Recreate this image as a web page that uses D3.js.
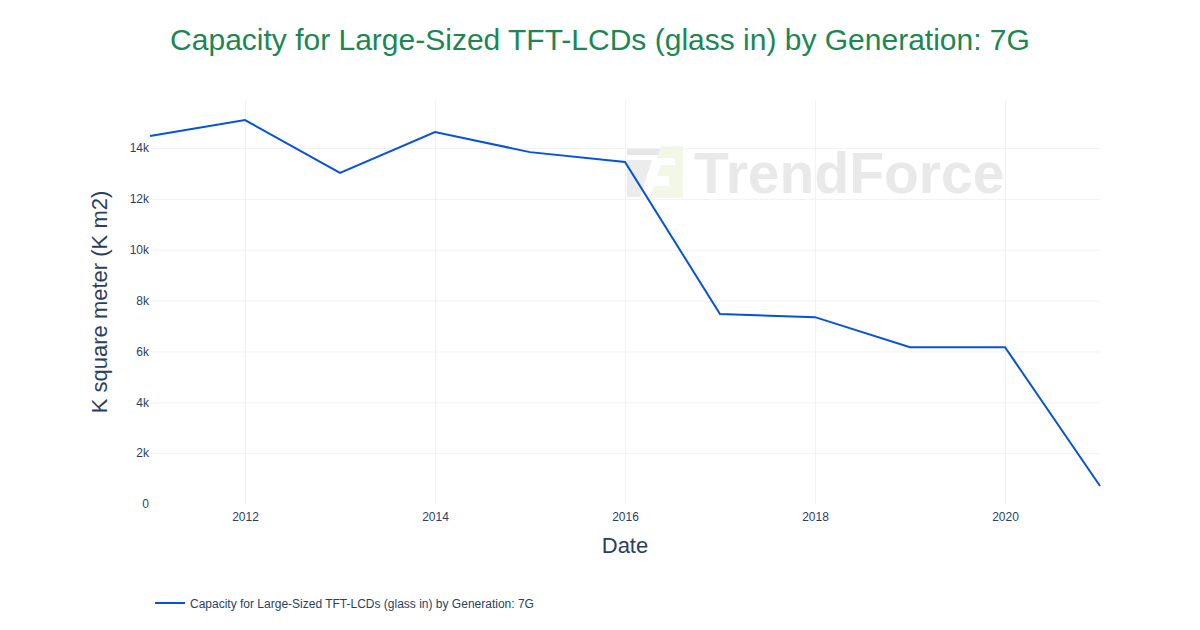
<!DOCTYPE html>
<html>
<head>
<meta charset="utf-8">
<script src="https://cdn.jsdelivr.net/npm/d3@7"></script>
<style>
body { margin: 0; background: #fff; }
text { font-family: "Liberation Sans", Arial, sans-serif; }
</style>
</head>
<body>
<div id="chart"></div>
<script>
var years = [2011, 2012, 2013, 2014, 2015, 2016, 2017, 2018, 2019, 2020, 2021];
var capacity = [14470, 15100, 13020, 14630, 13840, 13450, 7470, 7350, 6170, 6170, 710];
var yTicks = [0, 2000, 4000, 6000, 8000, 10000, 12000, 14000];
var xTicks = [2012, 2014, 2016, 2018, 2020];
var seriesName = "Capacity for Large-Sized TFT-LCDs (glass in) by Generation: 7G";

var w = 1200;
var h = 630;
var plotLeft = 150, plotRight = 1100, plotTop = 100, plotBottom = 504;
var textColor = "#2a3f5f";
var gridColor = "#f0f2f5";

var svg = d3.select("#chart")
            .append("svg")
            .attr("width", w)
            .attr("height", h);

var x = d3.scaleLinear().domain([2011, 2021]).range([plotLeft, plotRight]);
var y = d3.scaleLinear().domain([0, 15890]).range([plotBottom, plotTop]);

// watermark
var wm = svg.append("g");
wm.append("path").attr("d", "M627,148 L661,148 L659,155 L627,155 Z").attr("fill", "#e6e6e6");
wm.append("path").attr("d", "M627,160 L652,160 L640,197 L627,197 Z").attr("fill", "#ececec");
wm.append("path").attr("d", "M661,146 L683,146 L683,198 L650,198 L654,186 L669,186 L669,176 L657,176 L661,165 L675,165 L675,158 L657,158 Z").attr("fill", "#f2f7e6");
wm.append("text")
  .attr("x", 694).attr("y", 193)
  .attr("font-size", 57)
  .attr("font-weight", "bold")
  .attr("fill", "#e9e9e9")
  .text("TrendForce");

// grid
svg.append("g")
  .attr("transform", "translate(0," + plotBottom + ")")
  .call(d3.axisBottom(x).tickValues(xTicks).tickSize(-(plotBottom - plotTop)).tickFormat(""))
  .call(function(g) { g.select(".domain").remove(); })
  .selectAll("line").attr("stroke", gridColor);

svg.append("g")
  .attr("transform", "translate(" + plotLeft + ",0)")
  .call(d3.axisLeft(y).tickValues(yTicks.slice(1)).tickSize(-(plotRight - plotLeft)).tickFormat(""))
  .call(function(g) { g.select(".domain").remove(); })
  .selectAll("line").attr("stroke", gridColor);

// axis labels
var xAxis = svg.append("g")
  .attr("transform", "translate(0," + plotBottom + ")")
  .call(d3.axisBottom(x).tickValues(xTicks).tickSize(0).tickPadding(8).tickFormat(d3.format("d")));
xAxis.select(".domain").remove();
xAxis.selectAll("text").attr("font-size", 12).attr("fill", textColor)
  .style("font-family", "'Liberation Sans', Arial, sans-serif");

var yAxis = svg.append("g")
  .attr("transform", "translate(" + plotLeft + ",0)")
  .call(d3.axisLeft(y).tickValues(yTicks).tickSize(0).tickPadding(1)
    .tickFormat(function(d) { return d === 0 ? "0" : (d / 1000) + "k"; }));
yAxis.select(".domain").remove();
yAxis.selectAll("text").attr("font-size", 12).attr("fill", textColor)
  .style("font-family", "'Liberation Sans', Arial, sans-serif");

// line
var line = d3.line()
  .x(function(d, i) { return x(years[i]); })
  .y(function(d) { return y(d); });

svg.append("path")
  .datum(capacity)
  .attr("d", line)
  .attr("fill", "none")
  .attr("stroke", "#0652dd")
  .attr("stroke-width", 2);

// titles
svg.append("text")
  .attr("x", 600).attr("y", 50)
  .attr("text-anchor", "middle")
  .attr("font-size", 30)
  .attr("fill", "#1b8752")
  .text(seriesName);

svg.append("text")
  .attr("x", 625).attr("y", 553)
  .attr("text-anchor", "middle")
  .attr("font-size", 22)
  .attr("fill", textColor)
  .text("Date");

svg.append("text")
  .attr("transform", "translate(107,302) rotate(-90)")
  .attr("text-anchor", "middle")
  .attr("font-size", 22)
  .attr("fill", textColor)
  .text("K square meter (K m2)");

// legend
svg.append("line")
  .attr("x1", 155).attr("x2", 185)
  .attr("y1", 603).attr("y2", 603)
  .attr("stroke", "#0652dd")
  .attr("stroke-width", 2);

svg.append("text")
  .attr("x", 190).attr("y", 608)
  .attr("font-size", 12)
  .attr("fill", textColor)
  .text(seriesName);
</script>
</body>
</html>
